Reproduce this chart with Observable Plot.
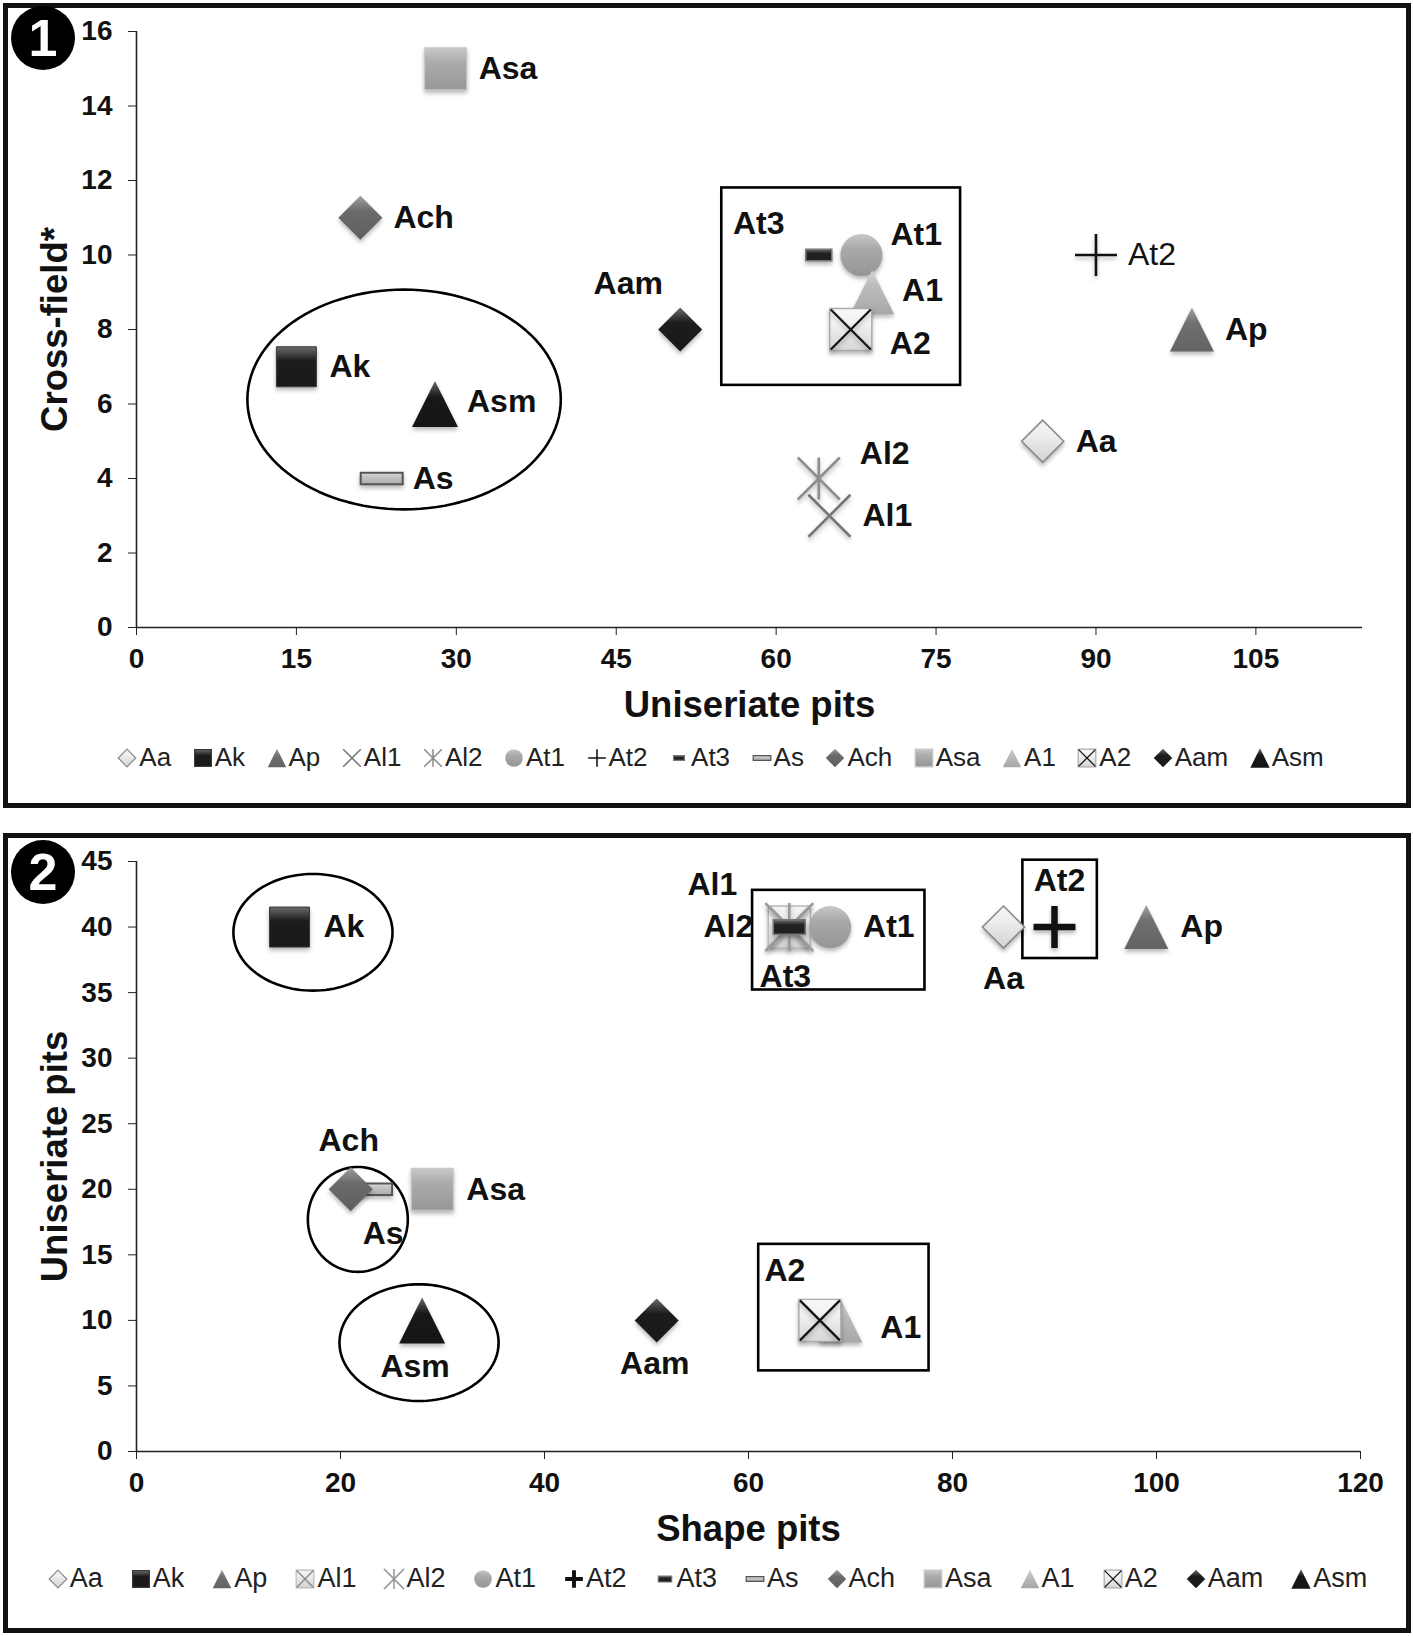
<!DOCTYPE html>
<html>
<head>
<meta charset="utf-8">
<script src="https://cdn.jsdelivr.net/npm/d3@7"></script>
<script src="https://cdn.jsdelivr.net/npm/@observablehq/plot@0.6"></script>
<style>
  html, body { margin: 0; padding: 0; background: #fff; }
  body { width: 1413px; height: 1636px; position: relative; overflow: hidden; font-family: "Liberation Sans", Arial, sans-serif; }
  .panel { position: absolute; left: 3px; width: 1408px; border: 5px solid #111; box-sizing: border-box; background: #fff; }
  .panel svg.plot { position: absolute; left: 0; top: 0; }
  .plot g[aria-label="dot"] { filter: drop-shadow(0px 3px 2px rgba(0,0,0,0.28)); }
  .legend { position: absolute; left: 0; right: 0; display: flex; justify-content: center; align-items: center; color: #222; white-space: nowrap; }
  .legend .item { display: flex; align-items: center; }
  .legend svg { display: block; }
  .badge { position: absolute; width: 64px; height: 64px; border-radius: 50%; background: #000; color: #fff;
           font-family: "Liberation Sans Narrow", "Liberation Sans", Arial, sans-serif; font-weight: bold; font-size: 52px;
           display: flex; align-items: center; justify-content: center; line-height: 1; z-index: 5; }
  #defs { position: absolute; left: 0; top: 0; width: 0; height: 0; }
</style>
</head>
<body>
<svg id="defs" width="0" height="0"><defs id="gradDefs"></defs></svg>
<div class="panel" id="p1" style="top:3px;height:805px;"></div>
<div class="panel" id="p2" style="top:833px;height:800px;"></div>
<div class="badge" style="left:11px;top:6px;">1</div>
<div class="badge" style="left:11px;top:840px;">2</div>
<script>
// ---------------- DATA ----------------
const species = ["Aa","Ak","Ap","Al1","Al2","At1","At2","At3","As","Ach","Asa","A1","A2","Aam","Asm"];

// Panel 1: x = "Uniseriate pits", y = "Cross-field*"
const p1X = [85, 15, 99, 65, 64, 68, 90, 64, 23, 21, 29, 69, 67, 51, 28];
const p1Y = [ 5,  7,  8,  3,  4, 10, 10, 10,  4, 11, 15,  9,  8,  8,  6];
const p1XTicks = [0, 15, 30, 45, 60, 75, 90, 105];
const p1YTicks = [0, 2, 4, 6, 8, 10, 12, 14, 16];
const p1XLabel = "Uniseriate pits";
const p1YLabel = "Cross-field*";

// Panel 2: x = "Shape pits", y = "Uniseriate pits"
const p2X = [85, 15, 99, 64, 64, 68, 90, 64, 23, 21, 29, 69, 67, 51, 28];
const p2Y = [40, 40, 40, 40, 40, 40, 40, 40, 20, 20, 20, 10, 10, 10, 10];
const p2XTicks = [0, 20, 40, 60, 80, 100, 120];
const p2YTicks = [0, 5, 10, 15, 20, 25, 30, 35, 40, 45];
const p2XLabel = "Shape pits";
const p2YLabel = "Uniseriate pits";

// Group annotations (data units)
const p1Ellipses = [{cx: 25.1, cy: 6.12, rx: 14.7, ry: 2.95}];
const p1Boxes = [{x1: 54.9, x2: 77.3, y1: 6.5, y2: 11.8}];
const p2Ellipses = [
  {cx: 17.3, cy: 39.6, rx: 7.8, ry: 4.45},
  {cx: 21.7, cy: 17.7, rx: 4.9, ry: 4.0},
  {cx: 27.7, cy: 8.3, rx: 7.8, ry: 4.45}
];
const p2Boxes = [
  {x1: 60.4, x2: 77.3, y1: 35.2, y2: 42.8},
  {x1: 86.9, x2: 94.2, y1: 37.6, y2: 45.1},
  {x1: 61.0, x2: 77.7, y1: 6.15, y2: 15.8}
];

// ---------------- SYMBOLS & STYLES ----------------
const mk = f => ({draw(c, s) { const r = Math.sqrt(s / Math.PI); f(c, r); }});
const SYM = {
  diamond: mk((c, r) => { c.moveTo(0, -r); c.lineTo(r, 0); c.lineTo(0, r); c.lineTo(-r, 0); c.closePath(); }),
  square: mk((c, r) => { c.moveTo(-r, -r); c.lineTo(r, -r); c.lineTo(r, r); c.lineTo(-r, r); c.closePath(); }),
  triangle: mk((c, r) => { c.moveTo(0, -r); c.lineTo(r, r); c.lineTo(-r, r); c.closePath(); }),
  circle: mk((c, r) => { c.moveTo(r, 0); c.arc(0, 0, r, 0, 2 * Math.PI); c.closePath(); }),
  cross: mk((c, r) => { c.moveTo(-r, -r); c.lineTo(r, r); c.moveTo(r, -r); c.lineTo(-r, r); }),
  asterisk: mk((c, r) => { c.moveTo(-r, -r); c.lineTo(r, r); c.moveTo(r, -r); c.lineTo(-r, r); c.moveTo(0, -r); c.lineTo(0, r); }),
  plus: mk((c, r) => { c.moveTo(-r, 0); c.lineTo(r, 0); c.moveTo(0, -r); c.lineTo(0, r); }),
  dashThin: mk((c, r) => { const h = r * 0.27; c.moveTo(-r, -h); c.lineTo(r, -h); c.lineTo(r, h); c.lineTo(-r, h); c.closePath(); }),
  dashThick: mk((c, r) => { const h = r * 0.45; c.moveTo(-r, -h); c.lineTo(r, -h); c.lineTo(r, h); c.lineTo(-r, h); c.closePath(); })
};

const G = c => "url(#g" + c.replace("#", "") + ")";
const markers1 = {
  Aa:  [{sym: "diamond", r: 21, fill: G("#eeeeee"), stroke: "#8a8a8a", sw: 1.6}],
  Ak:  [{sym: "square", r: 20, fill: G("#1c1c1c"), stroke: "#3a3a3a", sw: 1}],
  Ap:  [{sym: "triangle", r: 22, fill: G("#707070"), stroke: "none", sw: 0}],
  Al1: [{sym: "cross", r: 21, fill: "none", stroke: "#777777", sw: 2.6}],
  Al2: [{sym: "asterisk", r: 21, fill: "none", stroke: "#8e8e8e", sw: 2.6}],
  At1: [{sym: "circle", r: 21, fill: G("#a9a9a9"), stroke: "none", sw: 0}],
  At2: [{sym: "plus", r: 21, fill: "none", stroke: "#111111", sw: 2.6}],
  At3: [{sym: "dashThick", r: 13, fill: G("#222222"), stroke: "#777777", sw: 1.5}],
  As:  [{sym: "dashThin", r: 21, fill: G("#c4c4c4"), stroke: "#555555", sw: 2}],
  Ach: [{sym: "diamond", r: 22, fill: G("#6b6b6b"), stroke: "none", sw: 0}],
  Asa: [{sym: "square", r: 21, fill: G("#ababab"), stroke: "#c8c8c8", sw: 1}],
  A1:  [{sym: "triangle", r: 22, fill: G("#bdbdbd"), stroke: "none", sw: 0}],
  A2:  [{sym: "square", r: 21, fill: G("#f2f2f2"), stroke: "#aaaaaa", sw: 1.4}, {sym: "cross", r: 20, fill: "none", stroke: "#111111", sw: 2.2}],
  Aam: [{sym: "diamond", r: 22, fill: G("#1c1c1c"), stroke: "none", sw: 0}],
  Asm: [{sym: "triangle", r: 23, fill: G("#181818"), stroke: "none", sw: 0}]
};
const markers2 = Object.assign({}, markers1, {
  Al1: [{sym: "square", r: 21, fill: G("#eeeeee"), stroke: "#bbbbbb", sw: 1.4}, {sym: "cross", r: 20, fill: "none", stroke: "#8a8a8a", sw: 2.4}],
  Al2: [{sym: "asterisk", r: 24, fill: "none", stroke: "#9a9a9a", sw: 2.6}],
  At2: [{sym: "plus", r: 21, fill: "none", stroke: "#111111", sw: 6.5}],
  At3: [{sym: "dashThick", r: 16, fill: G("#222222"), stroke: "#777777", sw: 1.5}]
});

// label offsets [dx, dy, anchor, weight]
const labels1 = {
  Aa: [33, 0, "start"], Ak: [33, 0, "start"], Ap: [33, 0, "start"], Al1: [33, 0, "start"],
  Al2: [41, -25, "start"], At1: [29, -20, "start"], At2: [32, 0, "start", "normal"],
  At3: [-60, -31, "middle"], As: [31, 0, "start"], Ach: [33, 0, "start"], Asa: [33, 0, "start"],
  A1: [30, -2, "start"], A2: [39, 14, "start"], Aam: [-52, -46, "middle"], Asm: [32, -2, "start"]
};
const labels2 = {
  Aa: [0, 52, "middle"], Ak: [34, 0, "start"], Ap: [34, 0, "start"], Al1: [-77, -42, "middle"],
  Al2: [-36, 0, "end"], At1: [33, 0, "start"], At2: [5, -46, "middle"], At3: [-4, 50, "middle"],
  As: [12, 44, "middle"], Ach: [-2, -49, "middle"], Asa: [34, 0, "start"], A1: [40, 7, "start"],
  A2: [-35, -50, "middle"], Aam: [-2, 43, "middle"], Asm: [-7, 46, "middle"]
};

// gradients
(function () {
  const defs = d3.select("#gradDefs");
  const cols = new Set();
  for (const m of [markers1, markers2]) for (const k in m) for (const L of m[k]) if (L.fill.startsWith("url")) cols.add(L.fill.slice(6, -1));
  for (const hex of cols) {
    const base = d3.color("#" + hex);
    const g = defs.append("linearGradient").attr("id", "g" + hex).attr("x1", 0).attr("y1", 0).attr("x2", 0).attr("y2", 1);
    const top = d3.interpolateRgb(base, "#ffffff")(0.35);
    const bot = base.darker(0.35);
    g.append("stop").attr("offset", "0%").attr("stop-color", top);
    g.append("stop").attr("offset", "35%").attr("stop-color", base.formatHex());
    g.append("stop").attr("offset", "100%").attr("stop-color", bot.formatHex());
  }
})();

function ellipsePoints(list) {
  const pts = [];
  list.forEach((e, id) => {
    for (let k = 0; k < 120; k++) {
      const t = (k / 120) * 2 * Math.PI;
      pts.push({id, x: e.cx + e.rx * Math.cos(t), y: e.cy + e.ry * Math.sin(t)});
    }
  });
  return pts;
}

function buildPanel(cfg) {
  const rows = species.map((s, i) => ({s, x: cfg.xs[i], y: cfg.ys[i]}));
  const marks = [
    Plot.line(ellipsePoints(cfg.ellipses), {x: "x", y: "y", z: "id", curve: "linear-closed", stroke: "#000", strokeWidth: 2.6}),
    Plot.rect(cfg.boxes, {x1: "x1", x2: "x2", y1: "y1", y2: "y2", fill: "none", stroke: "#000", strokeWidth: 2.6}),
    Plot.ruleY([0], {stroke: "#222", strokeWidth: 1.6}),
    Plot.ruleX([0], {stroke: "#222", strokeWidth: 1.6}),
    Plot.axisY(cfg.yTicks, {tickSize: 8, tickPadding: 16, label: null, fontSize: cfg.tickFont, fontWeight: "bold", stroke: "#222"}),
    Plot.axisX(cfg.xTicks, {tickSize: 8, tickPadding: 13, label: null, fontSize: cfg.tickFont, fontWeight: "bold", stroke: "#222"}),
    Plot.text([cfg.xLabel], {text: d => d, frameAnchor: "bottom", lineAnchor: "middle", textAnchor: "middle", dy: 78, fontSize: cfg.titleFont, fontWeight: "bold", fill: "#111"}),
    Plot.text([cfg.yLabel], {text: d => d, frameAnchor: "left", lineAnchor: "middle", textAnchor: "middle", dx: -81, rotate: -90, fontSize: cfg.titleFont, fontWeight: "bold", fill: "#111"})
  ];
  rows.forEach(row => {
    for (const L of cfg.markers[row.s]) {
      marks.push(Plot.dot([row], {x: "x", y: "y", symbol: SYM[L.sym], r: L.r, fill: L.fill, stroke: L.stroke, strokeWidth: L.sw}));
    }
  });
  rows.forEach(row => {
    const [dx, dy, anchor, weight] = cfg.labels[row.s];
    marks.push(Plot.text([row], {x: "x", y: "y", text: "s", dx, dy, textAnchor: anchor, fontSize: cfg.labelFont,
      fontWeight: weight || "bold", fill: "#111"}));
  });
  const svg = Plot.plot({
    width: 1398, height: cfg.height,
    marginLeft: 128, marginRight: cfg.marginRight, marginTop: 23, marginBottom: 100,
    x: {domain: cfg.xDomain}, y: {domain: cfg.yDomain},
    style: {fontFamily: "'Liberation Sans', Arial, sans-serif", color: "#111", background: "transparent", overflow: "visible"},
    marks
  });
  svg.classList.add("plot");
  const panel = document.getElementById(cfg.id);
  panel.appendChild(svg);

  // legend
  const leg = document.createElement("div");
  leg.className = "legend";
  leg.style.top = cfg.legendTop + "px";
  leg.style.gap = cfg.legendGap + "px";
  leg.style.fontSize = cfg.legendFont + "px";
  leg.style.paddingLeft = cfg.legendShift + "px";
  species.forEach(s => {
    const item = document.createElement("div");
    item.className = "item";
    const sv = d3.create("svg").attr("width", 22).attr("height", 28);
    const g = sv.append("g").attr("transform", "translate(11,14)");
    for (const L of cfg.markers[s]) {
      const rr = L.r * 0.42;
      g.append("path").attr("d", d3.symbol(SYM[L.sym], Math.PI * rr * rr)())
        .attr("fill", L.fill).attr("stroke", L.stroke)
        .attr("stroke-width", L.sw ? Math.max(1.2, L.sw * 0.6) : 0);
    }
    item.appendChild(sv.node());
    const t = document.createElement("span");
    t.textContent = s;
    t.style.marginLeft = "1px";
    item.appendChild(t);
    leg.appendChild(item);
  });
  panel.appendChild(leg);
}

buildPanel({
  id: "p1", xs: p1X, ys: p1Y, xTicks: p1XTicks, yTicks: p1YTicks, xLabel: p1XLabel, yLabel: p1YLabel,
  xDomain: [0, 115], yDomain: [0, 16], height: 719, marginRight: 44,
  ellipses: p1Ellipses, boxes: p1Boxes, markers: markers1, labels: labels1,
  tickFont: 28, labelFont: 32, titleFont: 36.5, legendTop: 734, legendGap: 20.5, legendFont: 26, legendShift: 26
});
buildPanel({
  id: "p2", xs: p2X, ys: p2Y, xTicks: p2XTicks, yTicks: p2YTicks, xLabel: p2XLabel, yLabel: p2YLabel,
  xDomain: [0, 120], yDomain: [0, 45], height: 713, marginRight: 46,
  ellipses: p2Ellipses, boxes: p2Boxes, markers: markers2, labels: labels2,
  tickFont: 28, labelFont: 32, titleFont: 36.5, legendTop: 725, legendGap: 27, legendFont: 27, legendShift: 0
});
</script>
</body>
</html>
